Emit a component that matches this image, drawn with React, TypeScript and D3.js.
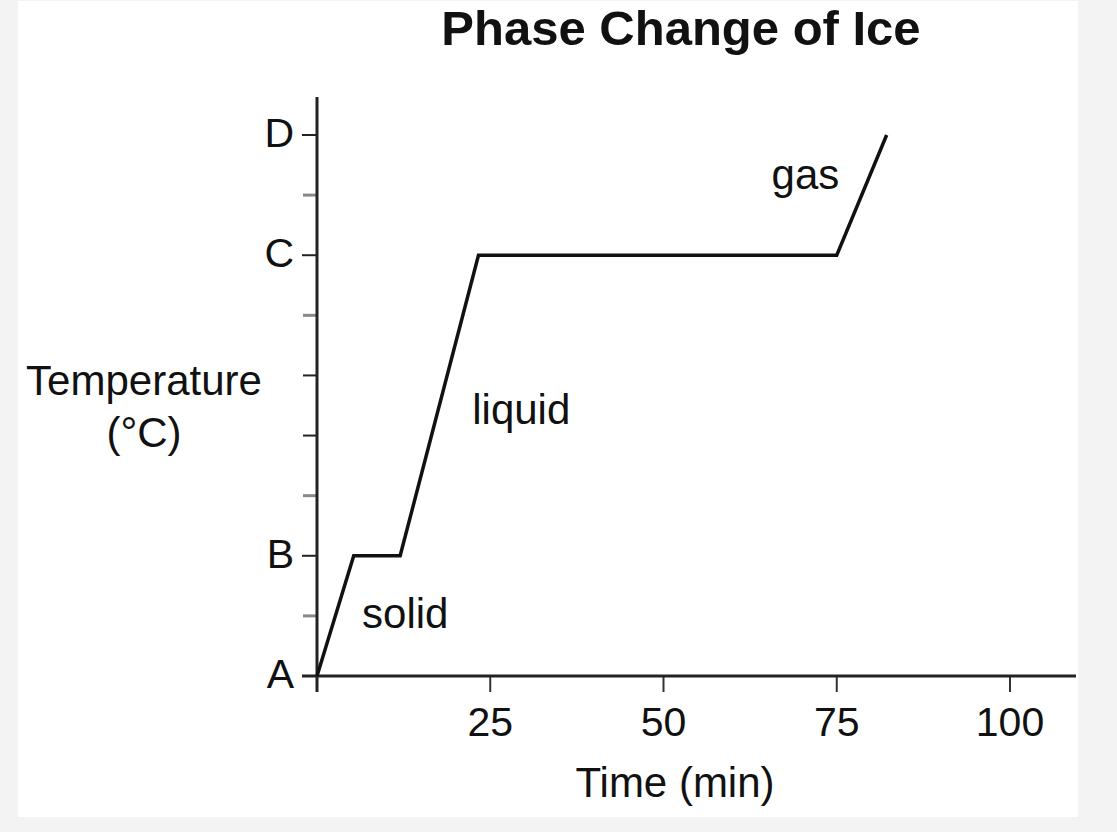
import React from "react";
import * as d3 from "d3";

const timeValues = [0, 5.3, 12, 23.3, 75, 82.2];
const levelValues = [0, 2, 2, 7, 7, 9];
const xTicks = [25, 50, 75, 100];
const yTickLevels = [0, 1, 2, 3, 4, 5, 6, 7, 8, 9];
const yTickLabels: Record<number, string> = { 0: "A", 2: "B", 7: "C", 9: "D" };
const darkMinor = [4, 5];
const phaseLabels = [
  { text: "solid", t: 6.5, level: 0.8 },
  { text: "liquid", t: 22.4, level: 4.2 },
  { text: "gas", t: 65.6, level: 8.1 },
];

const W = 1117;
const H = 832;
const FONT = "'Liberation Sans', Arial, Helvetica, sans-serif";

export default function App() {
  const x = d3.scaleLinear().domain([0, 100]).range([317, 1010]);
  const y = d3.scaleLinear().domain([0, 9]).range([676, 135]);
  const pts = timeValues.map((t, i) => [t, levelValues[i]] as [number, number]);
  const line = d3
    .line<[number, number]>()
    .x((d) => x(d[0]))
    .y((d) => y(d[1]));

  return (
    <svg
      width={W}
      height={H}
      style={{ position: "absolute", left: 0, top: 0, display: "block" }}
      fontFamily={FONT}
    >
      <rect x={0} y={0} width={W} height={H} fill="#f3f3f3" />
      <rect x={18} y={1} width={1060} height={816} fill="#ffffff" />

      <text x={681} y={45} textAnchor="middle" fontSize={49} fontWeight="bold" fill="#111">
        Phase Change of Ice
      </text>

      {/* y ticks */}
      {yTickLevels.map((lv) => {
        const labeled = yTickLabels[lv] !== undefined;
        const dark = labeled || darkMinor.includes(lv);
        return (
          <g key={lv}>
            <line
              x1={labeled ? 302 : 303}
              x2={317}
              y1={y(lv)}
              y2={y(lv)}
              stroke={dark ? "#222" : "#888"}
              strokeWidth={dark ? 2 : 3}
            />
            {labeled && (
              <text x={294} y={y(lv)} dy={12} textAnchor="end" fontSize={41} fill="#111">
                {yTickLabels[lv]}
              </text>
            )}
          </g>
        );
      })}

      {/* x ticks */}
      {xTicks.map((t) => (
        <g key={t}>
          <line x1={x(t)} x2={x(t)} y1={676} y2={692} stroke="#333" strokeWidth={2} />
          <text x={x(t)} y={736} textAnchor="middle" fontSize={41} fill="#111">
            {t}
          </text>
        </g>
      ))}

      {/* axes */}
      <line x1={317} x2={317} y1={97} y2={692} stroke="#222" strokeWidth={3} />
      <line x1={302} x2={1076} y1={676} y2={676} stroke="#222" strokeWidth={3} />

      {/* axis titles */}
      <text x={144} y={395} textAnchor="middle" fontSize={42} fill="#111">
        Temperature
      </text>
      <text x={144} y={447} textAnchor="middle" fontSize={42} fill="#111">
        (°C)
      </text>
      <text x={675} y={797} textAnchor="middle" fontSize={42} fill="#111">
        Time (min)
      </text>

      {/* data line */}
      <path d={line(pts) || ""} fill="none" stroke="#111" strokeWidth={3.5} strokeLinejoin="miter" />

      {phaseLabels.map((p) => (
        <text key={p.text} x={x(p.t)} y={y(p.level)} fontSize={42} fill="#111">
          {p.text}
        </text>
      ))}
    </svg>
  );
}
